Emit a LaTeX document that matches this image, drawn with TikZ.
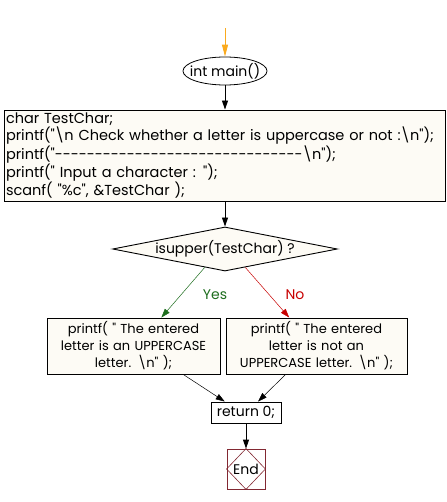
\documentclass[tikz,border=0pt]{standalone}
\usepackage{fontspec}
\setmainfont{Poppins}[Ligatures=TeXOff]
\usetikzlibrary{shapes.geometric,arrows.meta,calc}
\definecolor{boxfill}{RGB}{253,251,245}
\definecolor{endred}{RGB}{130,40,50}
\definecolor{yesgreen}{RGB}{30,110,30}
\definecolor{nored}{RGB}{200,0,0}
\definecolor{startorange}{RGB}{250,170,30}
\tikzset{
  every node/.style={font=\fontsize{14}{17}\selectfont},
  procbox/.style={draw=black,line width=0.9pt,fill=boxfill,rectangle,inner sep=2pt},
  arr/.style={-{Triangle[length=9pt,width=6pt]},line width=0.9pt},
  thinarr/.style={-{Triangle[length=9pt,width=6pt]},line width=0.5pt},
}
\begin{document}
\begin{tikzpicture}[x=1pt,y=1pt]
\useasboundingbox (0,0) rectangle (446,-502);
\fill[white] (0,0) rectangle (446,-502);
\coordinate (st) at (225,-28);
\node[ellipse,draw,line width=0.8pt,fill=white,minimum width=84pt,minimum height=28pt,inner xsep=-5.5pt,inner ysep=0pt] (main) at (225,-71) {int main()};
\node[procbox,minimum width=441pt,minimum height=91pt,text width=437pt,align=left,font=\fontsize{14.5}{17.2}\selectfont] (decl) at (224.5,-155.5)
 {char TestChar;\\
  printf("\textbackslash n Check whether a letter is uppercase or not :\textbackslash n");\\
  printf("-{}-{}-{}-{}-{}-{}-{}-{}-{}-{}-{}-{}-{}-{}-{}-{}-{}-{}-{}-{}-{}-{}-{}-{}-{}-{}-{}-{}-{}-{}-{}\textbackslash n");\\
  printf(" Input a character : ");\\
  scanf( "\%c", \&TestChar );};
\node[diamond,draw,line width=0.9pt,fill=boxfill,minimum width=224pt,minimum height=44pt,inner sep=0pt,aspect=5.1] (dec) at (225,-249) {isupper(TestChar) ?};
\node[procbox,minimum width=173pt,minimum height=56pt,text width=169pt,align=center,font=\fontsize{13}{17}\selectfont] (yes) at (133.5,-346)
 {printf( " The entered\\letter is an UPPERCASE\\letter. \textbackslash n" );};
\node[procbox,minimum width=181pt,minimum height=56pt,text width=177pt,align=center,font=\fontsize{13}{17}\selectfont] (no) at (316.5,-346)
 {printf( " The entered\\letter is not an\\UPPERCASE letter. \textbackslash n" );};
\node[procbox,fill=white,minimum width=70pt,minimum height=21pt,inner sep=1pt] (ret) at (246,-412.5) {return 0;};
\node[draw=endred,line width=0.8pt,fill=white,rectangle,minimum width=38pt,minimum height=40pt,inner sep=0pt] (end) at (246,-469) {End};
\draw[endred,line width=0.6pt] (end.north) -- (end.east) -- (end.south) -- (end.west) -- cycle;
\draw[arr,startorange,-{Triangle[length=12pt,width=6pt]}] (st) -- (main.north);
\draw[arr] (main.south) -- (decl.north -| main.south);
\draw[arr] (decl.south -| dec.north) -- (dec.north);
\draw[thinarr,yesgreen] ($(dec.south)!0.18!(dec.west)$) -- ($(yes.north west)!0.66!(yes.north east)$);
\draw[thinarr,nored] ($(dec.south)!0.18!(dec.east)$) -- ($(no.north west)!0.35!(no.north east)$);
\node[text=yesgreen] (yl) at (215,-295) {Yes};
\node[text=nored] (nl) at (295,-295) {No};
\draw[thinarr] ($(yes.south west)!0.786!(yes.south east)$) -- ($(ret.north west)!0.2!(ret.north east)$);
\draw[thinarr] ($(no.south west)!0.33!(no.south east)$) -- ($(ret.north west)!0.67!(ret.north east)$);
\draw[arr] (ret.south) -- (end.north);
\end{tikzpicture}
\end{document}
